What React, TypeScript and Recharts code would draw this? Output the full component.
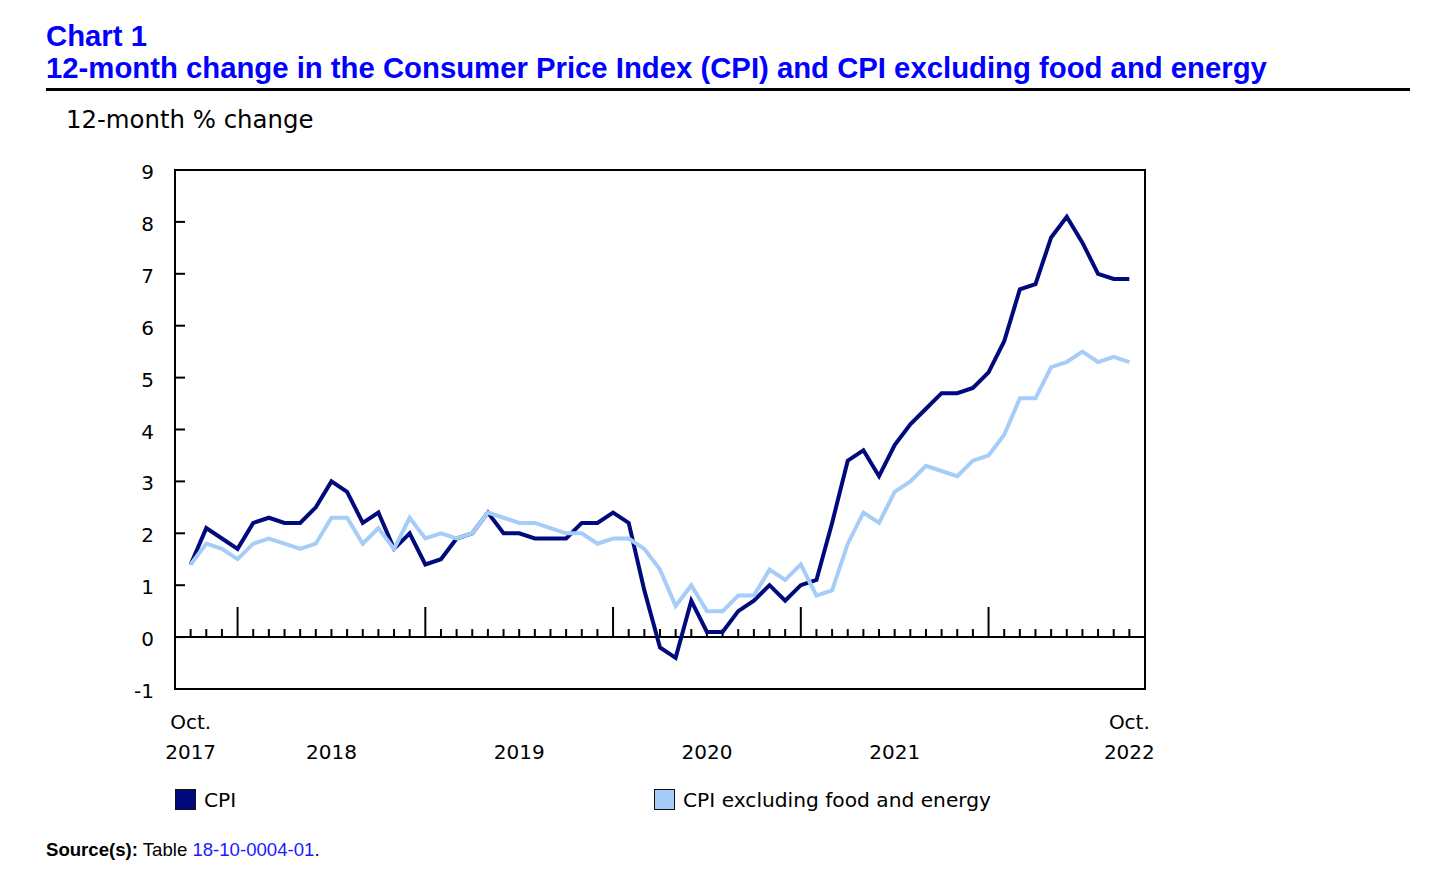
import React from "react";
import { LineChart, Line, XAxis, YAxis, ReferenceLine, ReferenceArea } from "recharts";

// Monthly observations, October 2017 to October 2022
const months = [
  "2017-10", "2017-11", "2017-12",
  "2018-01", "2018-02", "2018-03", "2018-04", "2018-05", "2018-06", "2018-07", "2018-08", "2018-09", "2018-10", "2018-11", "2018-12",
  "2019-01", "2019-02", "2019-03", "2019-04", "2019-05", "2019-06", "2019-07", "2019-08", "2019-09", "2019-10", "2019-11", "2019-12",
  "2020-01", "2020-02", "2020-03", "2020-04", "2020-05", "2020-06", "2020-07", "2020-08", "2020-09", "2020-10", "2020-11", "2020-12",
  "2021-01", "2021-02", "2021-03", "2021-04", "2021-05", "2021-06", "2021-07", "2021-08", "2021-09", "2021-10", "2021-11", "2021-12",
  "2022-01", "2022-02", "2022-03", "2022-04", "2022-05", "2022-06", "2022-07", "2022-08", "2022-09", "2022-10",
];

// 12-month % change, all-items CPI
const cpi = [
  1.4, 2.1, 1.9,
  1.7, 2.2, 2.3, 2.2, 2.2, 2.5, 3.0, 2.8, 2.2, 2.4, 1.7, 2.0,
  1.4, 1.5, 1.9, 2.0, 2.4, 2.0, 2.0, 1.9, 1.9, 1.9, 2.2, 2.2,
  2.4, 2.2, 0.9, -0.2, -0.4, 0.7, 0.1, 0.1, 0.5, 0.7, 1.0, 0.7,
  1.0, 1.1, 2.2, 3.4, 3.6, 3.1, 3.7, 4.1, 4.4, 4.7, 4.7, 4.8,
  5.1, 5.7, 6.7, 6.8, 7.7, 8.1, 7.6, 7.0, 6.9, 6.9,
];

// 12-month % change, CPI excluding food and energy
const cpiCore = [
  1.4, 1.8, 1.7,
  1.5, 1.8, 1.9, 1.8, 1.7, 1.8, 2.3, 2.3, 1.8, 2.1, 1.7, 2.3,
  1.9, 2.0, 1.9, 2.0, 2.4, 2.3, 2.2, 2.2, 2.1, 2.0, 2.0, 1.8,
  1.9, 1.9, 1.7, 1.3, 0.6, 1.0, 0.5, 0.5, 0.8, 0.8, 1.3, 1.1,
  1.4, 0.8, 0.9, 1.8, 2.4, 2.2, 2.8, 3.0, 3.3, 3.2, 3.1, 3.4,
  3.5, 3.9, 4.6, 4.6, 5.2, 5.3, 5.5, 5.3, 5.4, 5.3,
];

const yTicks = [-1, 0, 1, 2, 3, 4, 5, 6, 7, 8, 9];

// Category-axis labels: first and last month, and mid-year for each year
const xLabelIdx = [0, 9, 21, 33, 45, 60];
const xLabelTop = ["Oct.", "", "", "", "", "Oct."];
const xLabelBottom = ["2017", "2018", "2019", "2020", "2021", "2022"];

const seriesNames = ["CPI", "CPI excluding food and energy"];
const seriesColors = ["#000a7d", "#a6cdf7"];

const data = months.map((m, i) => ({ idx: i, month: m, cpi: cpi[i], core: cpiCore[i] }));

const AXIS_FONT = "'DejaVu Sans', Verdana, sans-serif";
const Y_LABEL_GAP = 21;
const MINOR_TICK = 0.155; // tick length along the zero line, in % units
const MAJOR_TICK = 0.58;

const YTick = (props: any) => {
  const { x, y, payload } = props;
  return (
    <g>
      <line x1={x + Y_LABEL_GAP} x2={x + Y_LABEL_GAP + 10} y1={y} y2={y} stroke="#000" strokeWidth={2} />
      <text
        x={x}
        y={y + 2}
        textAnchor="end"
        dominantBaseline="central"
        fontFamily={AXIS_FONT}
        fontSize={20}
        fill="#000"
      >
        {payload.value}
      </text>
    </g>
  );
};

const XTick = (props: any) => {
  const { x, y, payload } = props;
  const k = xLabelIdx.indexOf(payload.value);
  if (k < 0) return null;
  return (
    <g>
      {xLabelTop[k] && (
        <text x={x} y={y + 33} textAnchor="middle" dominantBaseline="central" fontFamily={AXIS_FONT} fontSize={20} fill="#000">
          {xLabelTop[k]}
        </text>
      )}
      <text x={x} y={y + 63} textAnchor="middle" dominantBaseline="central" fontFamily={AXIS_FONT} fontSize={20} fill="#000">
        {xLabelBottom[k]}
      </text>
    </g>
  );
};

export default function App() {
  const titleFont = "'Liberation Sans', Arial, Helvetica, sans-serif";
  return (
    <div
      style={{
        position: "absolute",
        left: 0,
        top: 0,
        width: 1440,
        height: 880,
        background: "#fff",
        overflow: "hidden",
      }}
    >
      <div style={{ position: "absolute", left: 0, top: 0 }}>
        <LineChart
          width={1440}
          height={880}
          data={data}
          margin={{ top: 170, right: 295, bottom: 111, left: 115 }}
        >
          <XAxis
            dataKey="idx"
            type="number"
            domain={[-1, 61]}
            ticks={xLabelIdx}
            interval={0}
            height={80}
            axisLine={false}
            tickLine={false}
            tickSize={0}
            tickMargin={0}
            tick={<XTick />}
          />
          <YAxis
            type="number"
            domain={[-1, 9]}
            ticks={yTicks}
            interval={0}
            width={60}
            axisLine={false}
            tickLine={false}
            tickSize={0}
            tickMargin={Y_LABEL_GAP}
            tick={<YTick />}
          />
          <ReferenceLine y={0} stroke="#000" strokeWidth={2} ifOverflow="visible" />
          {months.map((m, i) => (
            <ReferenceLine
              key={m}
              segment={[
                { x: i, y: 0 },
                { x: i, y: m.endsWith("-01") ? MAJOR_TICK : MINOR_TICK },
              ]}
              stroke="#000"
              strokeWidth={2}
              ifOverflow="visible"
            />
          ))}
          <Line
            dataKey="cpi"
            name={seriesNames[0]}
            stroke={seriesColors[0]}
            strokeWidth={4}
            dot={false}
            activeDot={false}
            isAnimationActive={false}
          />
          <Line
            dataKey="core"
            name={seriesNames[1]}
            stroke={seriesColors[1]}
            strokeWidth={4}
            dot={false}
            activeDot={false}
            isAnimationActive={false}
          />
          <ReferenceArea
            x1={-1}
            x2={61}
            y1={-1}
            y2={9}
            fill="none"
            fillOpacity={0}
            stroke="#000"
            strokeWidth={2}
            ifOverflow="visible"
          />
        </LineChart>
      </div>

      <div
        style={{
          position: "absolute",
          left: 46,
          top: 21,
          font: `bold 29.3px ${titleFont}`,
          lineHeight: "29px",
          color: "#0000ff",
          whiteSpace: "nowrap",
        }}
      >
        Chart 1
      </div>
      <div
        style={{
          position: "absolute",
          left: 46,
          top: 53,
          font: `bold 29.3px ${titleFont}`,
          lineHeight: "29px",
          color: "#0000ff",
          whiteSpace: "nowrap",
        }}
      >
        12-month change in the Consumer Price Index (CPI) and CPI excluding food and energy
      </div>
      <div style={{ position: "absolute", left: 46, top: 88, width: 1364, height: 3, background: "#000" }} />

      <div
        style={{
          position: "absolute",
          left: 66,
          top: 108,
          fontFamily: AXIS_FONT,
          fontSize: 24.4,
          lineHeight: "24px",
          color: "#000",
          whiteSpace: "nowrap",
        }}
      >
        12-month % change
      </div>

      {/* Legend */}
      {seriesNames.map((name, i) => {
        const left = i === 0 ? 175 : 654;
        return (
          <React.Fragment key={name}>
            <div
              style={{
                position: "absolute",
                left,
                top: 789,
                width: 21,
                height: 21,
                boxSizing: "border-box",
                background: seriesColors[i],
                border: "1.5px solid #111",
              }}
            />
            <div
              style={{
                position: "absolute",
                left: left + 29,
                top: 788,
                fontFamily: AXIS_FONT,
                fontSize: 20.2,
                lineHeight: "24px",
                color: "#000",
                whiteSpace: "nowrap",
              }}
            >
              {name}
            </div>
          </React.Fragment>
        );
      })}

      <div
        style={{
          position: "absolute",
          left: 46,
          top: 840,
          fontFamily: titleFont,
          fontSize: 18.6,
          lineHeight: "20px",
          color: "#000",
          whiteSpace: "nowrap",
        }}
      >
        <b>Source(s):</b> Table <span style={{ color: "#1a1aff" }}>18-10-0004-01</span>.
      </div>
    </div>
  );
}
